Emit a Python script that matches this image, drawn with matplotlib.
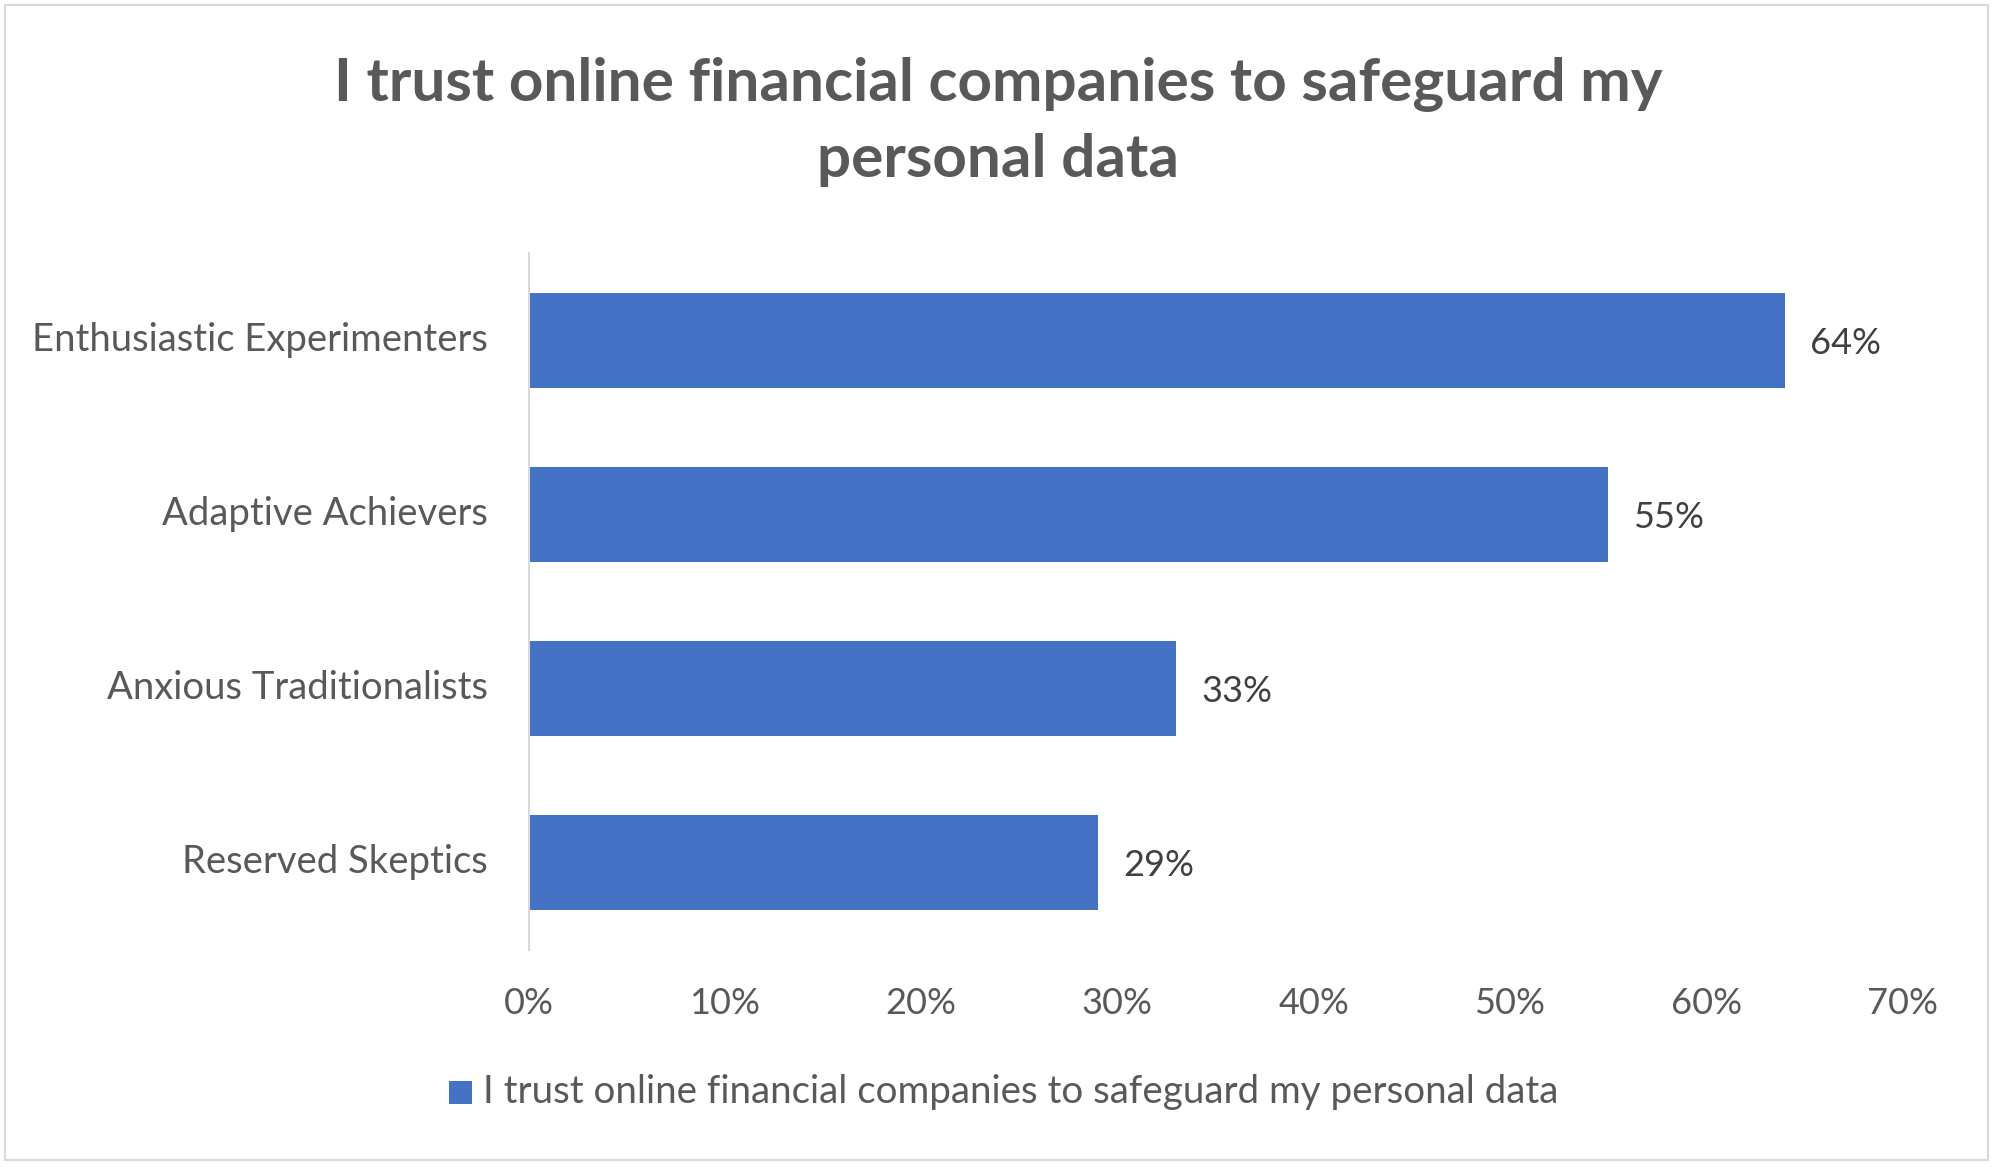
import matplotlib
matplotlib.use("Agg")
import matplotlib.pyplot as plt
import matplotlib.transforms as mtransforms
from matplotlib.patches import Rectangle
from matplotlib.ticker import FuncFormatter

categories = ["Enthusiastic Experimenters", "Adaptive Achievers",
              "Anxious Traditionalists", "Reserved Skeptics"]
values = [0.64, 0.55, 0.33, 0.29]
xticks = [0.0, 0.1, 0.2, 0.3, 0.4, 0.5, 0.6, 0.7]
title_lines = ["I trust online financial companies to safeguard my", "personal data"]
series_name = "I trust online financial companies to safeguard my personal data"

plt.rcParams['font.family'] = ['Lato', 'DejaVu Sans']

W, H = 1993, 1168
fig = plt.figure(figsize=(W / 100, H / 100), dpi=100)
fig.patch.set_facecolor('white')

def fx(px):
    return px / W

def fy(py):
    return 1 - py / H

ax_left, ax_right, ax_top, ax_bottom = 528.5, 1902.6, 253.4, 950
ax = fig.add_axes([fx(ax_left), fy(ax_bottom), fx(ax_right - ax_left), (ax_bottom - ax_top) / H])

n = len(categories)
ypos = list(range(n - 1, -1, -1))
bars = ax.barh(ypos, values, height=0.546, color='#4472C4')
ax.set_ylim(-0.5, n - 0.5)
ax.set_xlim(0, 0.70)
ax.set_xticks(xticks)
ax.xaxis.set_major_formatter(FuncFormatter(lambda v, p: f"{v*100:.0f}%"))
ax.set_yticks(ypos)
ax.set_yticklabels(categories)

for s in ['top', 'right', 'bottom']:
    ax.spines[s].set_visible(False)
ax.spines['left'].set_color('#d9d9d9')
ax.spines['left'].set_linewidth(1.5)
ax.tick_params(axis='both', length=0, colors='#595959')
ax.tick_params(axis='x', labelsize=26, pad=27)
ax.tick_params(axis='y', labelsize=27.5, pad=29)
shift = mtransforms.ScaledTranslation(0, 4 / 100, fig.dpi_scale_trans)
for lbl in ax.get_yticklabels():
    lbl.set_verticalalignment('center_baseline')
    lbl.set_transform(lbl.get_transform() + shift)

for b, v in zip(bars, values):
    ax.annotate(f"{v*100:.0f}%", (v, b.get_y() + b.get_height() / 2),
                xytext=(18, -2), textcoords='offset points',
                ha='left', va='center', fontsize=26, color='#404040')

fig.text(0.501, fy(100.5), title_lines[0], ha='center', va='baseline',
         fontsize=43.4, fontweight='bold', color='#595959')
fig.text(0.501, fy(177), title_lines[1], ha='center', va='baseline',
         fontsize=43.4, fontweight='bold', color='#595959')

fig.patches.append(Rectangle((fx(449), fy(1104)), fx(23), 23 / H,
                             transform=fig.transFigure, facecolor='#4472C4',
                             edgecolor='none'))
fig.text(fx(483), fy(1103), series_name, ha='left', va='baseline',
         fontsize=27.7, color='#595959')

fig.patches.append(Rectangle((fx(5), fy(1160)), fx(1983), 1155 / H,
                             transform=fig.transFigure, facecolor='none',
                             edgecolor='#d9d9d9', linewidth=1.5))

fig.savefig("out.png", dpi=100, facecolor='white')
